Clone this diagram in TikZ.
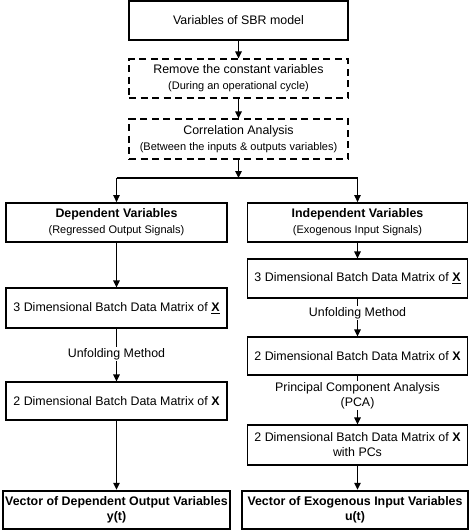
\documentclass[tikz,border=0pt]{standalone}
\usepackage{fontspec}
\setmainfont{Liberation Sans}
\usetikzlibrary{arrows.meta}
\begin{document}
\begin{tikzpicture}[x=1pt,y=-1pt,
  box/.style={draw=black, line width=1.2pt, align=center, inner sep=0pt, font=\fontsize{12.4}{15}\selectfont, text=black},
  heavy/.style={box, line width=1.8pt},
  vbox/.style={box, line width=2.4pt},
  dbox/.style={box, dash pattern=on 7pt off 4.5pt},
  lab/.style={fill=white, inner sep=1pt, align=center, font=\fontsize{12.4}{15}\selectfont, text=black},
  arr/.style={line width=1.2pt, -{Triangle[length=7pt,width=6.5pt]}},
  ln/.style={line width=1.2pt}]
\useasboundingbox (0,0) rectangle (474,530);

\node[heavy, minimum width=219pt, minimum height=39pt] (top) at (238.5,20.5) {Variables of SBR model};
\node[dbox, minimum width=219pt, minimum height=39pt] (rem) at (238.5,78.5)
  {Remove the constant variables\\[1pt]{\fontsize{11}{13}\selectfont (During an operational cycle)}};
\node[dbox, minimum width=219pt, minimum height=40pt] (cor) at (238.5,139)
  {Correlation Analysis\\[1pt]{\fontsize{11}{13}\selectfont (Between the inputs \& outputs variables)}};

\node[heavy, minimum width=221pt, minimum height=39pt] (dep) at (116.5,222.5)
  {\textbf{Dependent Variables}\\[1pt]{\fontsize{11}{13}\selectfont (Regressed Output Signals)}};
\node[heavy, minimum width=220pt, minimum height=39pt] (ind) at (357.5,222.5)
  {\textbf{Independent Variables}\\[1pt]{\fontsize{11}{13}\selectfont (Exogenous Input Signals)}};

\node[box, minimum width=221pt, minimum height=40pt] (l3) at (116.5,308)
  {3 Dimensional Batch Data Matrix of \underline{\textbf{X}}};
\node[box, minimum width=221pt, minimum height=38pt] (l2) at (116.5,401)
  {2 Dimensional Batch Data Matrix of \textbf{X}};
\node[vbox, minimum width=227pt, minimum height=38pt] (lv) at (116.5,510)
  {\textbf{Vector of Dependent Output Variables}\\\textbf{y(t)}};

\node[box, minimum width=220pt, minimum height=39pt] (r3) at (357.5,278.5)
  {3 Dimensional Batch Data Matrix of \underline{\textbf{X}}};
\node[box, minimum width=220pt, minimum height=38pt] (r2) at (357.5,356)
  {2 Dimensional Batch Data Matrix of \textbf{X}};
\node[box, minimum width=220pt, minimum height=40pt] (rp) at (357.5,445)
  {2 Dimensional Batch Data Matrix of \textbf{X}\\with PCs};
\node[vbox, minimum width=226pt, minimum height=38pt] (rv) at (355,510)
  {\textbf{Vector of Exogenous Input Variables}\\\textbf{u(t)}};

\node[lab] (lu) at (116.5,354) {Unfolding Method};
\node[lab] (ru) at (357.5,313) {Unfolding Method};
\node[lab] (pca) at (357.5,395.5) {Principal Component Analysis\\(PCA)};

\coordinate (j) at (238.5,178);
\coordinate (jl) at (116.5,178);
\coordinate (jr) at (357.5,178);

\draw[arr] (top) -- (rem);
\draw[arr] (rem) -- (cor);
\draw[arr] (cor) -- (j);
\draw[ln] (jl) -- (jr);
\draw[arr] (jl) -- (dep);
\draw[arr] (jr) -- (ind);

\draw[arr] (dep) -- (l3);
\draw[ln] (l3) -- (lu);
\draw[arr] (lu) -- (l2);
\draw[arr] (l2) -- (lv);

\draw[arr] (ind) -- (r3);
\draw[ln] (r3) -- (ru);
\draw[arr] (ru) -- (r2);
\draw[ln] (r2) -- (pca);
\draw[arr] (pca) -- (rp);
\draw[arr] (rp) -- (rp |- rv.north);
\end{tikzpicture}
\end{document}
